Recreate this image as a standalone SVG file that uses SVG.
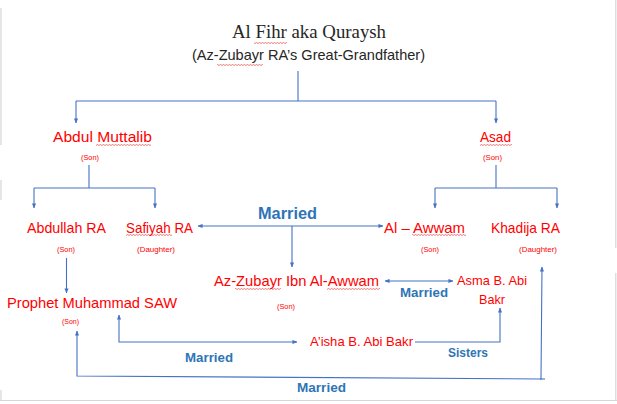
<svg xmlns="http://www.w3.org/2000/svg" width="617" height="404" viewBox="0 0 617 404">
  <style>
    .t { font-family: "Liberation Serif", serif; font-size: 18.5px; fill: #262626; }
    .st { font-family: "Liberation Sans", Arial, sans-serif; font-size: 14.5px; fill: #262626; }
    .n { font-family: "Liberation Sans", Arial, sans-serif; font-size: 15px; fill: #FF0000; }
    .s { font-size: 13.5px; }
    .r { font-family: "Liberation Sans", Arial, sans-serif; font-size: 7.6px; fill: #FF0000; }
    .lb { font-family: "Liberation Sans", Arial, sans-serif; font-weight: bold; font-size: 13px; fill: #2E75B6; }
    .lbb { font-size: 16px; }
    .c { fill: none; stroke: #4472C4; stroke-width: 1.1; }
    .a { marker-end: url(#ah); }
    .aa { marker-start: url(#ah); marker-end: url(#ah); }
    .sq { fill: url(#squig); }
    .edge { stroke: #D6D6D6; stroke-width: 1.2; fill: none; }
  </style>
  <defs>
    <marker id="ah" viewBox="0 0 6 6" refX="5.5" refY="3" markerWidth="5" markerHeight="5" markerUnits="userSpaceOnUse" orient="auto-start-reverse">
      <path d="M0,0.5 L6,3 L0,5.5 Z" fill="#4472C4"/>
    </marker>
    <pattern id="squig" width="3" height="2" patternUnits="userSpaceOnUse">
      <path d="M0,1.5 L1.5,0.5 L3,1.5" fill="none" stroke="#E02020" stroke-width="0.6"/>
    </pattern>
  </defs>
  <rect width="617" height="404" fill="#FFFFFF"/>

  <g id="page-edges">
    <path class="edge" d="M1,8 V145 M1,180 V200 M1,390 V400 M0,400.5 H617 M615.8,0 V248 M615.8,273 V400"/>
  </g>

  <g id="connectors">
    <path class="c" d="M298,71 V101 M76,101 H496"/>
    <path class="c a" d="M76,101 V123"/>
    <path class="c a" d="M496,101 V123"/>
    <path class="c" d="M89,165 V188 M34,188 H155"/>
    <path class="c a" d="M34,188 V208"/>
    <path class="c a" d="M155,188 V208"/>
    <path class="c" d="M496,165 V188 M435,188 H557"/>
    <path class="c a" d="M435,188 V208"/>
    <path class="c a" d="M557,188 V208"/>
    <path class="c aa" d="M198,226 H383"/>
    <path class="c a" d="M292,226 V267"/>
    <path class="c a" d="M66.5,258 V293"/>
    <path class="c aa" d="M385,281 H453"/>
    <path class="c aa" d="M119,315 V342 H297"/>
    <path class="c a" d="M415,342 H500 V308"/>
    <path class="c aa" d="M77,331 V376 L541,379 L542,267"/>
    <path class="c" d="M540,379 H545"/>
  </g>

  <g id="node-alfihr">
    <text class="t" x="232" y="38" textLength="154" lengthAdjust="spacingAndGlyphs">Al Fihr aka Quraysh</text>
    <text class="st" x="192" y="59.5" textLength="233" lengthAdjust="spacingAndGlyphs">(Az-Zubayr RA’s Great-Grandfather)</text>
    <rect class="sq" x="254" y="42" width="33" height="2"/>
    <rect class="sq" x="217" y="64" width="46" height="2"/>
  </g>

  <g id="node-abdulmuttalib">
    <text class="n" x="53" y="142" textLength="99" lengthAdjust="spacingAndGlyphs">Abdul Muttalib</text>
    <text class="r" x="81" y="160" textLength="18" lengthAdjust="spacingAndGlyphs">(Son)</text>
    <rect class="sq" x="96" y="144" width="55" height="2"/>
  </g>

  <g id="node-asad">
    <text class="n" x="480" y="142" textLength="31" lengthAdjust="spacingAndGlyphs">Asad</text>
    <text class="r" x="483" y="160" textLength="19" lengthAdjust="spacingAndGlyphs">(Son)</text>
    <rect class="sq" x="480" y="144" width="32" height="2"/>
  </g>

  <g id="node-abdullah">
    <text class="n" x="27" y="233" textLength="79" lengthAdjust="spacingAndGlyphs">Abdullah RA</text>
    <text class="r" x="57" y="252" textLength="18" lengthAdjust="spacingAndGlyphs">(Son)</text>
  </g>

  <g id="node-safiyah">
    <text class="n" x="126" y="233" textLength="67" lengthAdjust="spacingAndGlyphs">Safiyah RA</text>
    <text class="r" x="137" y="252" textLength="38" lengthAdjust="spacingAndGlyphs">(Daughter)</text>
    <rect class="sq" x="126" y="234" width="46" height="2"/>
  </g>

  <g id="node-alawwam">
    <text class="n" x="384" y="233" textLength="81" lengthAdjust="spacingAndGlyphs">Al – Awwam</text>
    <text class="r" x="421" y="252" textLength="18" lengthAdjust="spacingAndGlyphs">(Son)</text>
    <rect class="sq" x="412" y="234" width="54" height="2"/>
  </g>

  <g id="node-khadija">
    <text class="n" x="491" y="233" textLength="69" lengthAdjust="spacingAndGlyphs">Khadija RA</text>
    <text class="r" x="519" y="252" textLength="38" lengthAdjust="spacingAndGlyphs">(Daughter)</text>
  </g>

  <g id="node-zubayr">
    <text class="n" x="214" y="286" textLength="165" lengthAdjust="spacingAndGlyphs">Az-Zubayr Ibn Al-Awwam</text>
    <text class="r" x="277" y="309" textLength="18" lengthAdjust="spacingAndGlyphs">(Son)</text>
    <rect class="sq" x="235" y="288" width="46" height="2"/>
    <rect class="sq" x="327" y="288" width="53" height="2"/>
  </g>

  <g id="node-asma">
    <text class="n s" x="457" y="285" textLength="70" lengthAdjust="spacingAndGlyphs">Asma B. Abi</text>
    <text class="n s" x="479" y="304" textLength="26" lengthAdjust="spacingAndGlyphs">Bakr</text>
  </g>

  <g id="node-prophet">
    <text class="n" x="7" y="308" textLength="170" lengthAdjust="spacingAndGlyphs">Prophet Muhammad SAW</text>
    <text class="r" x="62" y="324" textLength="17" lengthAdjust="spacingAndGlyphs">(Son)</text>
  </g>

  <g id="node-aisha">
    <text class="n s" x="310" y="346" textLength="103" lengthAdjust="spacingAndGlyphs">A’isha B. Abi Bakr</text>
  </g>

  <g id="labels">
    <text class="lb lbb" x="258" y="219" textLength="59" lengthAdjust="spacingAndGlyphs">Married</text>
    <text class="lb" x="400" y="297" textLength="48" lengthAdjust="spacingAndGlyphs">Married</text>
    <text class="lb" x="185" y="362" textLength="48" lengthAdjust="spacingAndGlyphs">Married</text>
    <text class="lb" x="448" y="357" textLength="40" lengthAdjust="spacingAndGlyphs">Sisters</text>
    <text class="lb" x="297" y="392" textLength="49" lengthAdjust="spacingAndGlyphs">Married</text>
  </g>
</svg>
